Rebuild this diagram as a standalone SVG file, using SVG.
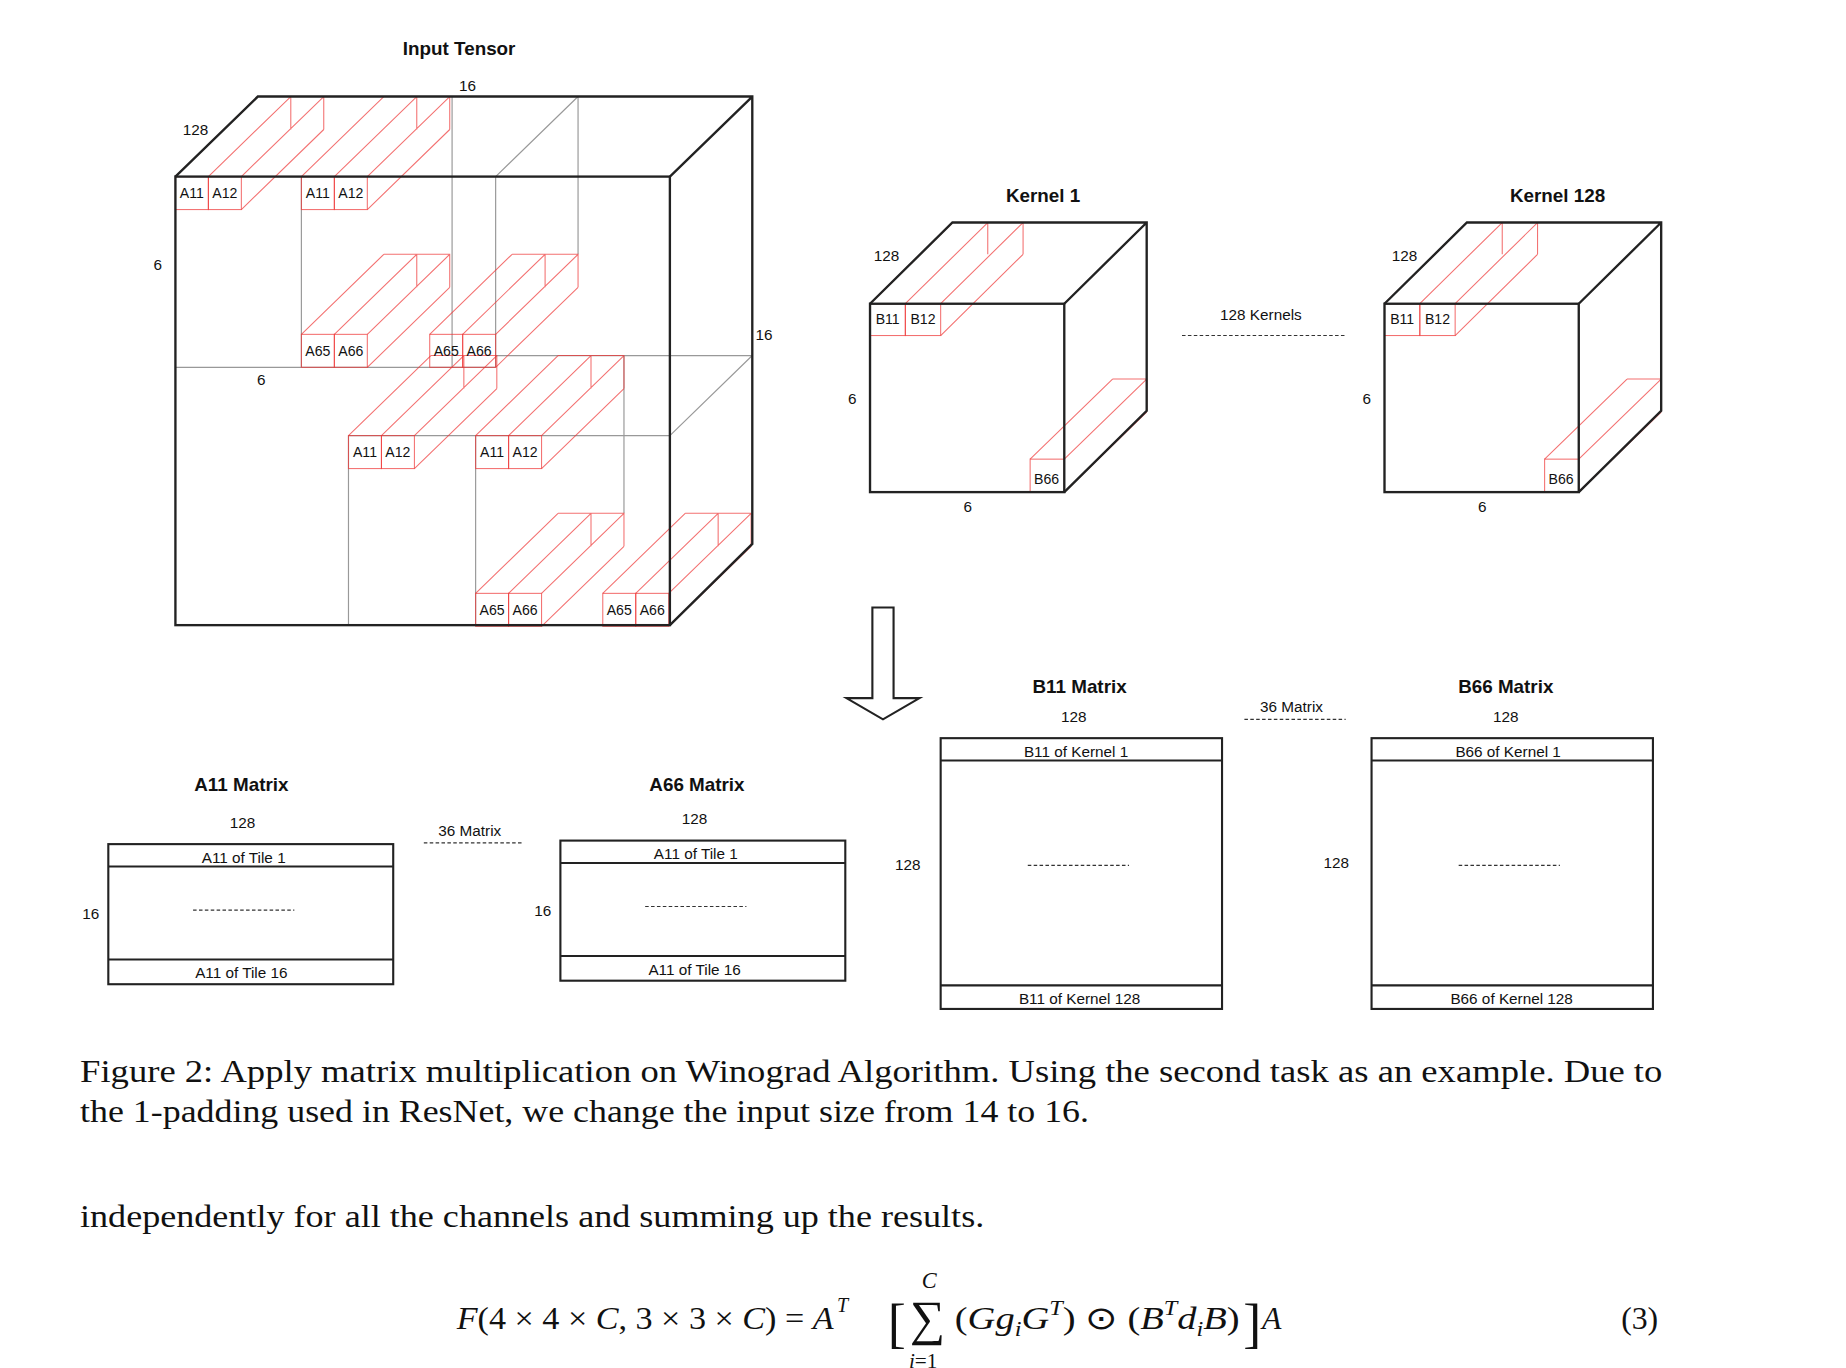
<svg xmlns="http://www.w3.org/2000/svg" width="1846" height="1368" viewBox="0 0 1846 1368">
<defs>
<style>
.t{font-family:"Liberation Sans",Arial,sans-serif;font-size:13px;fill:#111;text-anchor:middle}
.b{font-family:"Liberation Sans",Arial,sans-serif;font-size:16px;font-weight:bold;fill:#111;text-anchor:middle}
.s{font-family:"Liberation Serif","Times New Roman",serif;font-size:27px;fill:#111}
.k{fill:none;stroke:#222;stroke-width:2}
.g{fill:none;stroke:#999;stroke-width:1}
.r{fill:none;stroke:#e33;stroke-width:0.9;stroke-opacity:0.7}
.m{fill:none;stroke:#222;stroke-width:1.8}
.d{stroke:#333;stroke-width:1;stroke-dasharray:3 2}
</style>
<g id="pa"><rect class="r" x="0" y="0" width="28" height="28"/><rect class="r" x="28" y="0" width="28" height="28"/><path class="r" d="M0 0L70 -68M28 0L98 -68M56 0L126 -68M56 28L126 -40M70 -68H126V-40M98 -68V-40"/></g>
<g id="pb"><rect class="r" x="0" y="0" width="30" height="27"/><rect class="r" x="30" y="0" width="30" height="27"/><path class="r" d="M0 0L70 -69M30 0L100 -69M60 0L130 -69M60 27L130 -42M70 -69H130V-42M100 -69V-42"/></g>
<g id="pc"><rect class="r" x="0" y="0" width="29" height="28"/><path class="r" d="M0 0L70 -68M29 0L99 -68M29 28L99 -40M70 -68H99V-40"/></g>
</defs>
<rect width="1846" height="1368" fill="#fff"/>
<g transform="scale(1.1773)">
<g id="input-tensor">
<text class="b" x="390" y="47">Input Tensor</text>
<path class="g" d="M149 312H421M256 150V312M421 150V312M384 82V312M491 82V216M421 150L491 82M296 370H569M296 370V531M404 370V531M421 302H639M569 370L639 302M530 302V436"/>
<use href="#pa" x="149" y="150"/><use href="#pa" x="256" y="150"/>
<use href="#pa" x="256" y="284"/><use href="#pa" x="365" y="284"/>
<use href="#pa" x="296" y="370"/><use href="#pa" x="404" y="370"/>
<use href="#pa" x="404" y="504"/><use href="#pa" x="512" y="504"/>
<rect class="k" x="149" y="150" width="420" height="381"/>
<path class="k" d="M149 150L219 82H639V462L569 531M569 150L639 82"/>
<g class="t" style="font-size:12px">
<text x="163" y="168">A11</text><text x="191" y="168">A12</text>
<text x="270" y="168">A11</text><text x="298" y="168">A12</text>
<text x="270" y="302">A65</text><text x="298" y="302">A66</text>
<text x="379" y="302">A65</text><text x="407" y="302">A66</text>
<text x="310" y="388">A11</text><text x="338" y="388">A12</text>
<text x="418" y="388">A11</text><text x="446" y="388">A12</text>
<text x="418" y="522">A65</text><text x="446" y="522">A66</text>
<text x="526" y="522">A65</text><text x="554" y="522">A66</text>
</g>
<text class="t" x="397" y="77">16</text><text class="t" x="166" y="115">128</text>
<text class="t" x="134" y="229">6</text><text class="t" x="649" y="289">16</text><text class="t" x="222" y="327">6</text>
</g>
<g id="kernel1">
<text class="b" x="886" y="172">Kernel 1</text>
<use href="#pb" x="739" y="258"/><use href="#pc" x="875" y="390"/>
<rect class="k" x="739" y="258" width="165" height="160"/>
<path class="k" d="M739 258L809 189H974V349L904 418M904 258L974 189"/>
<text class="t" x="754" y="275" style="font-size:12px">B11</text><text class="t" x="784" y="275" style="font-size:12px">B12</text>
<text class="t" x="889" y="411" style="font-size:12px">B66</text>
<text class="t" x="753" y="222">128</text><text class="t" x="724" y="343">6</text><text class="t" x="822" y="435">6</text>
</g>
<g id="kernel128">
<text class="b" x="1323" y="172">Kernel 128</text>
<use href="#pb" x="1176" y="258"/><use href="#pc" x="1312" y="390"/>
<rect class="k" x="1176" y="258" width="165" height="160"/>
<path class="k" d="M1176 258L1246 189H1411V349L1341 418M1341 258L1411 189"/>
<text class="t" x="1191" y="275" style="font-size:12px">B11</text><text class="t" x="1221" y="275" style="font-size:12px">B12</text>
<text class="t" x="1326" y="411" style="font-size:12px">B66</text>
<text class="t" x="1193" y="222">128</text><text class="t" x="1161" y="343">6</text><text class="t" x="1259" y="435">6</text>
</g>
<g id="connectors">
<text class="t" x="1071" y="272">128 Kernels</text>
<line class="d" x1="1004" y1="285" x2="1142" y2="285"/>
<path d="M741 516H759V593H781L750 611L719 593H741Z" fill="#fff" stroke="#222" stroke-width="1.8"/>
<text class="t" x="1097" y="605">36 Matrix</text>
<line class="d" x1="1057" y1="611" x2="1143" y2="611"/>
<text class="t" x="399" y="710">36 Matrix</text>
<line class="d" x1="360" y1="716" x2="445" y2="716"/>
</g>
<g id="b11-matrix">
<text class="b" x="917" y="589">B11 Matrix</text><text class="t" x="912" y="613">128</text>
<rect class="m" x="799" y="627" width="239" height="230"/>
<path class="m" d="M799 646H1038M799 837H1038" stroke-width="1.2"/>
<text class="t" x="914" y="643">B11 of Kernel 1</text><text class="t" x="917" y="853">B11 of Kernel 128</text>
<line class="d" x1="873" y1="735" x2="959" y2="735"/><text class="t" x="771" y="739">128</text>
</g>
<g id="b66-matrix">
<text class="b" x="1279" y="589">B66 Matrix</text><text class="t" x="1279" y="613">128</text>
<rect class="m" x="1165" y="627" width="239" height="230"/>
<path class="m" d="M1165 646H1404M1165 837H1404" stroke-width="1.2"/>
<text class="t" x="1281" y="643">B66 of Kernel 1</text><text class="t" x="1284" y="853">B66 of Kernel 128</text>
<line class="d" x1="1239" y1="735" x2="1325" y2="735"/><text class="t" x="1135" y="737">128</text>
</g>
<g id="a11-matrix">
<text class="b" x="205" y="672">A11 Matrix</text><text class="t" x="206" y="703">128</text>
<rect class="m" x="92" y="717" width="242" height="119"/>
<path class="m" d="M92 736H334M92 815H334" stroke-width="1.2"/>
<text class="t" x="207" y="733">A11 of Tile 1</text><text class="t" x="205" y="831">A11 of Tile 16</text>
<line class="d" x1="164" y1="773" x2="250" y2="773"/><text class="t" x="77" y="781">16</text>
</g>
<g id="a66-matrix">
<text class="b" x="592" y="672">A66 Matrix</text><text class="t" x="590" y="700">128</text>
<rect class="m" x="476" y="714" width="242" height="119"/>
<path class="m" d="M476 733H718M476 812H718" stroke-width="1.2"/>
<text class="t" x="591" y="730">A11 of Tile 1</text><text class="t" x="590" y="828">A11 of Tile 16</text>
<line class="d" x1="548" y1="770" x2="634" y2="770"/><text class="t" x="461" y="778">16</text>
</g>
<text class="s" x="68" y="919" textLength="1344" lengthAdjust="spacingAndGlyphs">Figure 2: Apply matrix multiplication on Winograd Algorithm. Using the second task as an example. Due to</text>
<text class="s" x="68" y="953" textLength="857" lengthAdjust="spacingAndGlyphs">the 1-padding used in ResNet, we change the input size from 14 to 16.</text>
<text class="s" x="68" y="1042" textLength="768" lengthAdjust="spacingAndGlyphs">independently for all the channels and summing up the results.</text>
<text class="s" x="388" y="1129" textLength="320" lengthAdjust="spacingAndGlyphs"><tspan font-style="italic">F</tspan>(4 × 4 × <tspan font-style="italic">C</tspan>, 3 × 3 × <tspan font-style="italic">C</tspan>) = <tspan font-style="italic">A</tspan></text>
<text class="s" x="711" y="1114" style="font-size:17px;font-style:italic">T</text>
<text class="s" x="754" y="1140" style="font-size:46px">[</text>
<text class="s" x="773" y="1134" style="font-size:42px">∑</text>
<text class="s" x="783" y="1094" style="font-size:19px;font-style:italic">C</text>
<text class="s" x="772" y="1162" style="font-size:18px"><tspan font-style="italic">i</tspan>=1</text>
<text class="s" x="811" y="1129" textLength="242" lengthAdjust="spacingAndGlyphs">(<tspan font-style="italic">Gg</tspan><tspan font-style="italic" style="font-size:17px" dy="6">i</tspan><tspan font-style="italic" dy="-6">G</tspan><tspan font-style="italic" style="font-size:17px" dy="-12">T</tspan><tspan dy="12">) ⊙ (</tspan><tspan font-style="italic">B</tspan><tspan font-style="italic" style="font-size:17px" dy="-12">T</tspan><tspan font-style="italic" dy="12">d</tspan><tspan font-style="italic" style="font-size:17px" dy="6">i</tspan><tspan font-style="italic" dy="-6">B</tspan>)</text>
<text class="s" x="1056" y="1140" style="font-size:46px">]</text>
<text class="s" x="1072" y="1129" font-style="italic">A</text>
<text class="s" x="1377" y="1129">(3)</text>
</g>
</svg>
